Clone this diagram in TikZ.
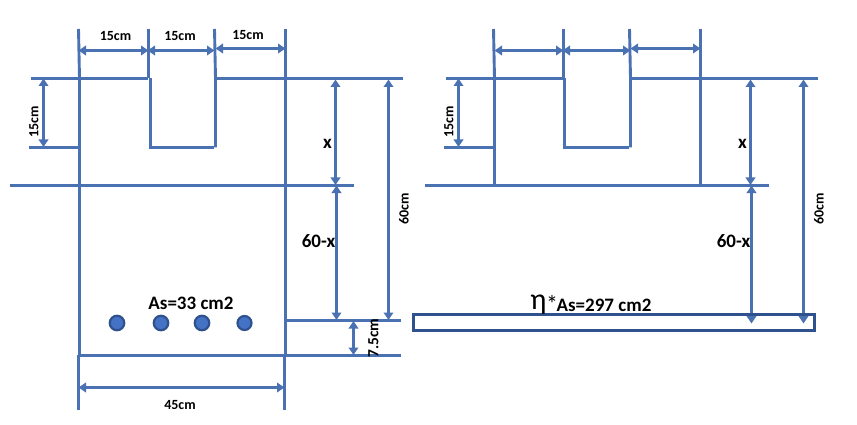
\documentclass[tikz,border=0pt]{standalone}
\usepackage{fontspec}
\setmainfont{Carlito}
\usetikzlibrary{arrows.meta}
\definecolor{bl}{HTML}{4A72B2}
\definecolor{dk}{HTML}{2F528F}
\definecolor{fillb}{HTML}{4472C4}
\tikzset{
  ln/.style={draw=bl,line width=2.9pt},
  dim/.style={draw=bl,line width=2.6pt,{Triangle[length=7.5pt,width=9.5pt]}-{Triangle[length=7.5pt,width=9.5pt]},shorten >=-0.5pt,shorten <=-0.5pt},
  lb/.style={font=\bfseries\fontsize{14}{16}\selectfont,text=black,inner sep=0pt},
  lbb/.style={font=\bfseries\fontsize{19}{21}\selectfont,text=black,inner sep=0pt},
  bar/.style={circle,draw=dk,fill=fillb,line width=2.2pt,minimum size=14.5pt,inner sep=0pt},
}
\begin{document}
\begin{tikzpicture}[x=1pt,y=-1pt]
\useasboundingbox (0,0) rectangle (857,425);
% left section
\draw[ln] (78.5,29) -- (79.5,78) -- (79.5,355);
\draw[ln] (78.5,355) -- (78.5,410);
\draw[ln] (148.5,29) -- (148.5,78);
\draw[ln] (150.5,78) -- (150.5,147.5) -- (214,147.5);
\draw[ln] (214.5,29) -- (215.5,78) -- (215.5,147.5);
\draw[ln] (285.5,29) -- (285.5,355);
\draw[ln] (284.5,355) -- (284.5,410);
\draw[ln] (31,78.5) -- (148,78.5);
\draw[ln] (215,78.5) -- (403,78.5);
\draw[ln] (29,147.5) -- (79,147.5);
\draw[ln] (10,185.5) -- (354,185.5);
\draw[ln] (286,320.5) -- (401,320.5);
\draw[ln] (78,355.5) -- (401,355.5);
\coordinate (la1) at (79,50.5); \coordinate (la2) at (148,50.5); \coordinate (la3) at (214,50.5);
\coordinate (la4) at (216,48.5); \coordinate (la5) at (285,48.5);
\draw[dim] (la1) -- (la2);
\draw[dim] (la2) -- (la3);
\draw[dim] (la4) -- (la5);
\draw[dim] (43.5,79) -- (43.5,146.5);
\draw[dim] (335.5,80) -- (335.5,184.5);
\draw[dim] (336.5,186) -- (336.5,319.5);
\draw[dim] (388.5,80) -- (388.5,319.5);
\draw[dim] (353.5,321.5) -- (353.5,354.5);
\draw[dim] (79,387.5) -- (284,387.5);
\node[bar] (b1) at (117,323) {};
\node[bar] (b2) at (161,323) {};
\node[bar] (b3) at (202,323) {};
\node[bar,minimum size=14pt] (b4) at (244.5,323) {};
\node[lb] (t1) at (115.5,36.5) {15cm};
\node[lb] (t2) at (180,36.5) {15cm};
\node[lb] (t3) at (248,35.5) {15cm};
\node[lb,rotate=90] (t4) at (34,122) {15cm};
\node[lb,font=\bfseries\fontsize{19}{21}\selectfont] (t5) at (327.5,144) {x};
\node[lbb] (t6) at (318.5,241) {60-x};
\node[lb,rotate=90] (t7) at (404,208.5) {60cm};
\node[lbb] (t8) at (191,303) {As=33 cm2};
\node[lb,font=\bfseries\fontsize{15.5}{17}\selectfont,rotate=90] (t9) at (373.5,338) {7.5cm};
\node[lb] (t10) at (180,405) {45cm};
% right section
\draw[ln] (493.5,29) -- (494.5,78) -- (494.5,185);
\draw[ln] (563.5,29) -- (563.5,78);
\draw[ln] (564.5,78) -- (564.5,147.5) -- (629,147.5);
\draw[ln] (629.5,29) -- (630.5,78) -- (630.5,147.5);
\draw[ln] (700.5,29) -- (700.5,185);
\draw[ln] (446,78.5) -- (563,78.5);
\draw[ln] (630,78.5) -- (818,78.5);
\draw[ln] (444,147.5) -- (494,147.5);
\draw[ln] (425,185.5) -- (769,185.5);
\draw[dim] (495,50.5) -- (563,50.5);
\draw[dim] (563,50.5) -- (630,50.5);
\draw[dim] (631,48.5) -- (700,48.5);
\draw[dim] (458.5,79) -- (458.5,146.5);
\draw[dim] (750.5,80) -- (750.5,184.5);
\draw[dim] (751.5,186) -- (751.5,323);
\draw[dim] (803.5,80) -- (803.5,323);
\node[draw=dk,line width=2.6pt,minimum width=401pt,minimum height=16pt,inner sep=0pt] (steel) at (614,322.5) {};
\node[lb,rotate=90] (u4) at (449,122) {15cm};
\node[lb,font=\bfseries\fontsize{19}{21}\selectfont] (u5) at (742.5,144) {x};
\node[lbb] (u6) at (733.5,241) {60-x};
\node[lb,rotate=90] (u7) at (819,208.5) {60cm};
\node[font=\fontsize{30}{32}\selectfont,text=black,inner sep=0pt] (eta) at (538.5,305) {η};
\node[font=\fontsize{24}{26}\selectfont,text=black,inner sep=0pt] (star) at (552,304) {*};
\node[lbb] (u8) at (604,305) {As=297 cm2};
\end{tikzpicture}
\end{document}
